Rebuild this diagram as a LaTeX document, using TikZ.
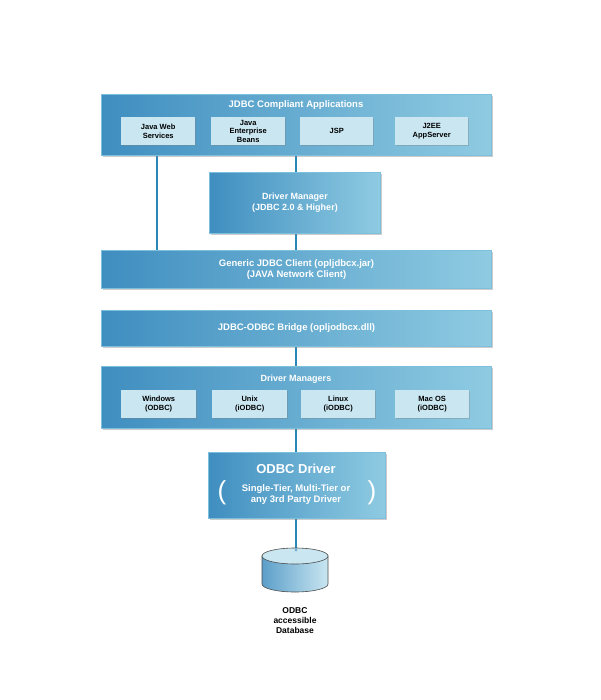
\documentclass[tikz,border=0pt]{standalone}
\usepackage{fontspec}
\setmainfont{Liberation Sans}
\usetikzlibrary{shadows}
\definecolor{bl}{HTML}{3F8EC0}
\definecolor{br}{HTML}{8FCBE2}
\definecolor{edge}{HTML}{7CC0DE}
\definecolor{inner}{HTML}{C9E6F1}
\definecolor{ln}{HTML}{2A88B8}
\tikzset{
 panel/.style={draw=edge,line width=1pt,left color=bl,right color=br,anchor=north west,inner sep=0pt,
   drop shadow={shadow xshift=1.5pt,shadow yshift=-1.5pt,opacity=0.4}},
 sub/.style={fill=inner,anchor=north west,inner sep=0pt,text=black,font=\bfseries\fontsize{7.5}{8.5}\selectfont,align=center,
   drop shadow={shadow xshift=1pt,shadow yshift=-1pt,opacity=0.35}},
 ttl/.style={text=white,font=\bfseries\fontsize{9.5}{11}\selectfont,align=center},
 conn/.style={draw=ln,line width=1.3pt}
}
\begin{document}
\begin{tikzpicture}[x=1pt,y=-1pt]
\useasboundingbox (0,0) rectangle (600,700);
% connectors
\coordinate (l1) at (157,155); \coordinate (l2) at (157,250);
\draw[conn] (l1) -- (l2);
\coordinate (a1) at (296,155); \coordinate (a2) at (296,172);
\coordinate (b1) at (296,233); \coordinate (b2) at (296,250);
\coordinate (d1) at (296,346); \coordinate (d2) at (296,366);
\coordinate (e1) at (296,428); \coordinate (e2) at (296,452);
\coordinate (f1) at (296,518); \coordinate (f2) at (296,550);
\foreach \p/\q in {a1/a2,b1/b2,d1/d2,e1/e2,f1/f2} \draw[conn] (\p) -- (\q);
% top
\node[panel,minimum width=390pt,minimum height=61pt] (app) at (101,94) {};
\node[ttl] (appt) at (296,105) {JDBC Compliant Applications};
\node[sub,minimum width=74pt,minimum height=28pt] (jws) at (121,117) {Java Web\\Services};
\node[sub,minimum width=74pt,minimum height=28pt] (jeb) at (211,117) {Java\\Enterprise\\Beans};
\node[sub,minimum width=73pt,minimum height=28pt] (jsp) at (300,117) {JSP};
\node[sub,minimum width=73pt,minimum height=28pt] (j2ee) at (395,117) {J2EE\\AppServer};
% driver manager
\node[panel,minimum width=171pt,minimum height=61pt] (dm) at (209,172) {};
\node[ttl,font=\bfseries\fontsize{9}{11}\selectfont] at (dm.center) {Driver Manager\\(JDBC 2.0 \& Higher)};
% generic
\node[panel,minimum width=390pt,minimum height=38pt] (gen) at (101,250) {};
\node[ttl] at (gen.center) {Generic JDBC Client (opljdbcx.jar)\\(JAVA Network Client)};
% bridge
\node[panel,minimum width=390pt,minimum height=36pt] (brg) at (101,310) {};
\node[ttl] at (brg.center) {JDBC-ODBC Bridge (opljodbcx.dll)};
% driver managers
\node[panel,minimum width=390pt,minimum height=62pt] (dms) at (101,366) {};
\node[ttl,font=\bfseries\fontsize{9}{11}\selectfont] at (296,379) {Driver Managers};
\node[sub,minimum width=75pt,minimum height=28pt] (win) at (121,390) {Windows\\(ODBC)};
\node[sub,minimum width=75pt,minimum height=28pt] (unx) at (212,390) {Unix\\(iODBC)};
\node[sub,minimum width=74pt,minimum height=28pt] (lnx) at (301,390) {Linux\\(iODBC)};
\node[sub,minimum width=74pt,minimum height=28pt] (mac) at (395,390) {Mac OS\\(iODBC)};
% odbc driver
\node[panel,minimum width=177pt,minimum height=66pt] (odbc) at (208,452) {};
\node[ttl,font=\bfseries\fontsize{13}{15}\selectfont] at (296,469) {ODBC Driver};
\node[ttl,font=\bfseries\fontsize{9.5}{11}\selectfont] (par) at (296,495) {Single-Tier, Multi-Tier or\\any 3rd Party Driver};
\node[text=white,font=\fontsize{26}{26}\selectfont] at (222,493) {(};
\node[text=white,font=\fontsize{26}{26}\selectfont] at (372,493) {)};
% database
\shade[left color=bl!85,right color=inner,draw=black!70,line width=0.6pt]
  (262,556) -- (262,584) arc[start angle=180,end angle=360,x radius=33pt,y radius=8pt] -- (328,556) -- cycle;
\draw[fill=inner,draw=black!70,line width=0.6pt] (295,556) ellipse[x radius=33pt,y radius=8pt];
\node[circle,fill=white,draw=ln,inner sep=0.8pt] (dbtop) at (296,550) {};
\node[font=\bfseries\fontsize{8.5}{10}\selectfont,align=center] (dbl) at (295,621) {ODBC\\accessible\\Database};
\end{tikzpicture}
\end{document}
